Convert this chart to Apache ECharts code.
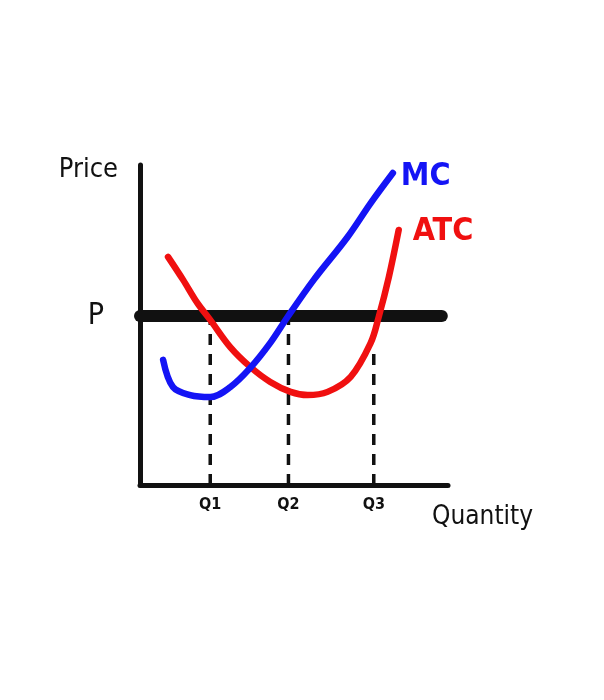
<!DOCTYPE html>
<html>
<head>
<meta charset="utf-8">
<script src="https://cdn.jsdelivr.net/npm/echarts@6/dist/echarts.min.js"></script>
<style>html,body{margin:0;padding:0;background:#fff}#c{width:604px;height:700px}</style>
</head>
<body>
<div id="c"></div>
<script>
// Conceptual units: quantity 0..100, price 0..100
const mcCurve = [[7.5,39.1],[10.7,30.6],[16.3,28.1],[22.8,27.5],[29.3,30.6],[35.8,36.6],[42.3,44.4],[47.9,52.5],[56.4,64.1],[67.4,77.5],[74.9,88.1],[82.1,97.5]];
const atcCurve = [[9.1,71.3],[14.0,64.1],[18.6,56.9],[22.8,51.6],[29.3,43.1],[35.8,36.9],[42.3,32.2],[48.9,29.1],[54.4,28.1],[60.9,29.1],[68.4,33.8],[74.9,44.4],[77.5,52.5],[80.8,65.0],[84.0,79.7]];
const priceP = 52.8;
const priceLineEnd = 98;
const qValues = [22.8, 48.2, 75.9];
const qLabels = ['Q1', 'Q2', 'Q3'];
const dashTops = [52.8, 52.8, 42.0];
const seriesNames = ['MC', 'ATC'];

const hand = '"DejaVu Sans Condensed", "DejaVu Sans", sans-serif';
const chart = echarts.init(document.getElementById('c'));
const dashSeries = qValues.map((q, i) => ({
  type: 'line', data: [[q, 0], [q, dashTops[i]]], symbol: 'none', silent: true, z: 1,
  lineStyle: { color: '#111', width: 3.5, type: [11, 9] }
}));
chart.setOption({
  animation: false,
  grid: { left: 140, top: 165, width: 308, height: 320 },
  xAxis: {
    type: 'value', min: 0, max: 100,
    splitLine: { show: false }, axisTick: { show: false },
    axisLine: { show: true, lineStyle: { color: '#111', width: 5, cap: 'round' } },
    axisLabel: {
      customValues: qValues, margin: 12,
      formatter: v => qLabels[qValues.indexOf(v)],
      fontFamily: hand, fontWeight: 'bold', fontSize: 16, color: '#111'
    },
    name: 'Quantity', nameLocation: 'end', nameGap: -16,
    nameTextStyle: { fontFamily: hand, fontSize: 26, color: '#111', align: 'left', verticalAlign: 'top', padding: [19, 0, 0, 0] }
  },
  yAxis: {
    type: 'value', min: 0, max: 100,
    splitLine: { show: false }, axisTick: { show: false },
    axisLine: { show: true, lineStyle: { color: '#111', width: 5, cap: 'round' } },
    axisLabel: {
      customValues: [priceP], margin: 36, formatter: () => 'P',
      fontFamily: hand, fontSize: 30, color: '#111'
    },
    name: 'Price', nameLocation: 'end', nameGap: -18,
    nameTextStyle: { fontFamily: hand, fontSize: 27, color: '#111', align: 'right', padding: [0, 22, 0, 0] }
  },
  series: [
    ...dashSeries,
    { type: 'line', data: [[0, priceP], [priceLineEnd, priceP]], symbol: 'none', silent: true, z: 2,
      lineStyle: { color: '#111', width: 12, cap: 'round' } },
    { name: seriesNames[0], type: 'line', data: mcCurve, smooth: 0.35, symbol: 'none', z: 4,
      lineStyle: { color: '#1414f5', width: 6.5, cap: 'round', join: 'round' },
      endLabel: { show: true, formatter: '{a}', color: '#1414f5', fontFamily: hand, fontWeight: 'bold', fontSize: 32, distance: 8, offset: [0, 4] } },
    { name: seriesNames[1], type: 'line', data: atcCurve, smooth: 0.35, symbol: 'none', z: 3,
      lineStyle: { color: '#f01010', width: 6.5, cap: 'round', join: 'round' },
      endLabel: { show: true, formatter: '{a}', color: '#f01010', fontFamily: hand, fontWeight: 'bold', fontSize: 32, distance: 14, offset: [0, 2] } }
  ]
});
</script>
</body>
</html>
